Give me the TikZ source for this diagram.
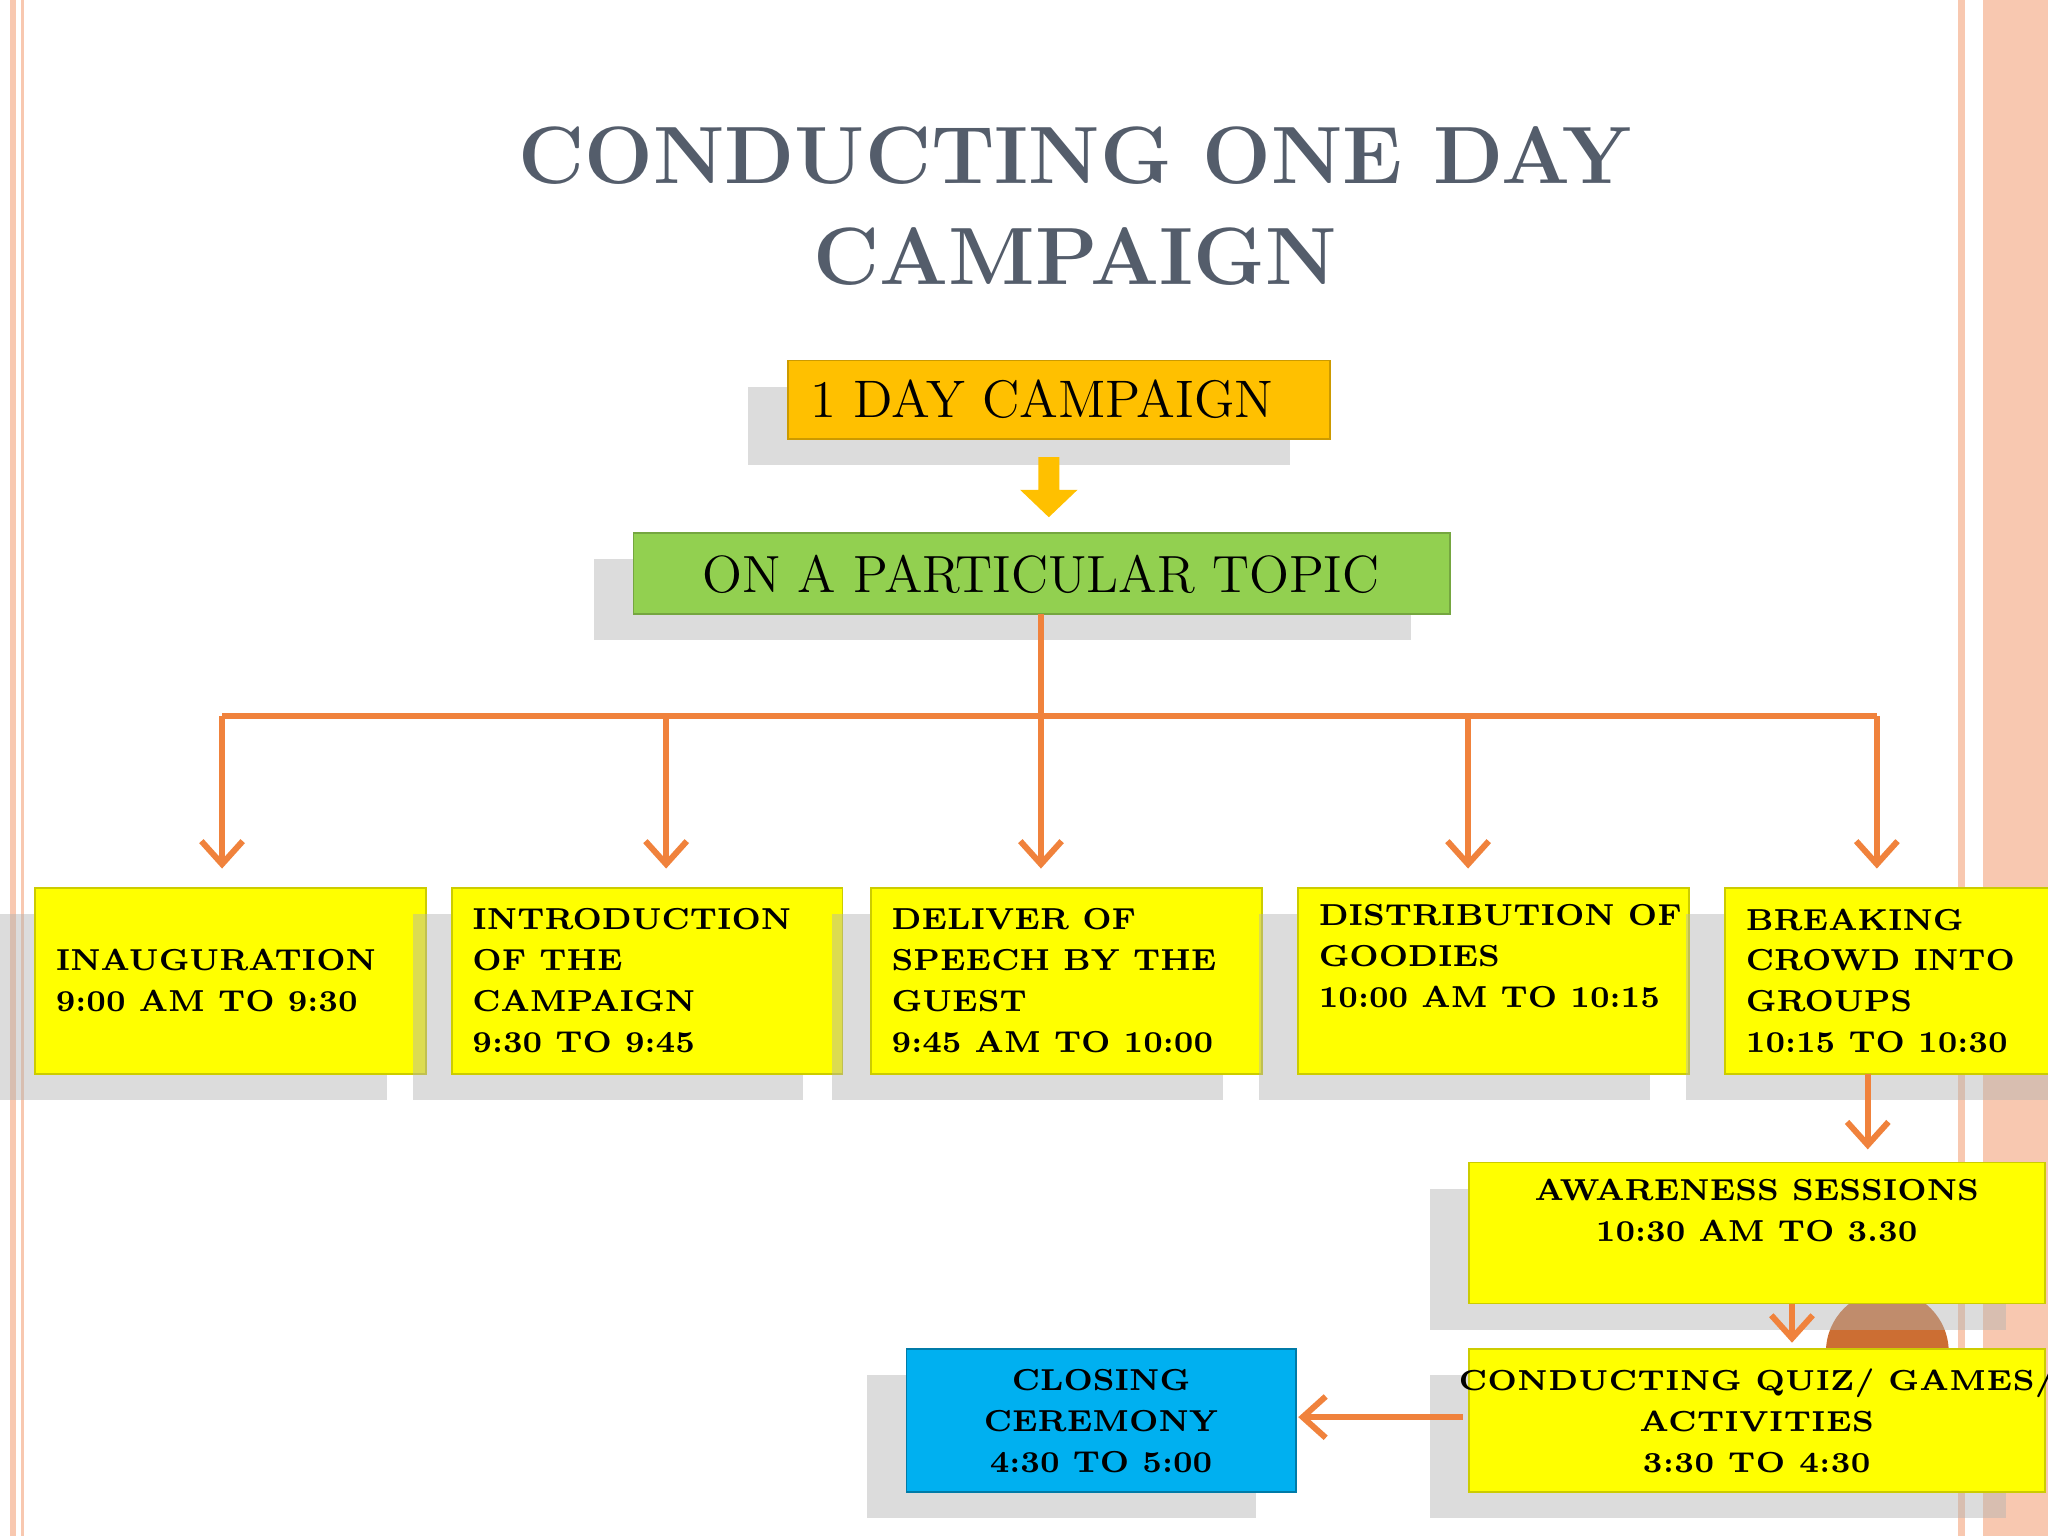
\documentclass[tikz,border=0pt]{standalone}
\usetikzlibrary{shadows,arrows.meta}
\definecolor{ttl}{HTML}{545D6B}
\definecolor{orng}{HTML}{F0823C}
\definecolor{gold}{HTML}{FFC000}
\definecolor{grn}{HTML}{92D050}
\definecolor{yel}{HTML}{FFFF00}
\definecolor{cyanb}{HTML}{00B0F0}
\definecolor{salm}{HTML}{F8C8B0}
\begin{document}
\begin{tikzpicture}[x=0.01cm,y=-0.01cm,
  sh/.style={drop shadow={shadow xshift=-0.3cm,shadow yshift=-0.2cm,fill=black!30,opacity=0.45}},
  bf/.style={font=\bfseries\fontsize{6.6}{8.9}\selectfont,inner sep=0pt},
  con/.style={draw=orng,line width=1.3pt},
  arr/.style={con,-{Straight Barb[length=5pt,width=9pt]}}]
\useasboundingbox (0,0) rectangle (1568,1176);
\fill[white] (0,0) rectangle (1568,1176);
% borders
\draw[salm,line width=1.2pt] (10,0)--(10,1176);
\draw[salm,line width=0.6pt] (17,0)--(17,1176);
\draw[salm,line width=1.6pt] (1502,0)--(1502,1176);
\fill[salm] (1518,0) rectangle (1568,1176);
\fill[orng!85!black] (1445,1035) circle (47);
% title
\node[text=ttl,font=\bfseries\fontsize{17.7}{22}\selectfont,align=center] (title) at (823,158) {CONDUCTING ONE DAY\\CAMPAIGN};
% top boxes
\path[sh,draw=gold!80!black,fill=gold] (603,276) rectangle (1018,336);
\node[anchor=west,inner sep=0pt,font=\fontsize{11.5}{14}\selectfont] (t1) at (620,306) {1 DAY CAMPAIGN};
\fill[gold] (795,350) rectangle (811,375) -- (825,375) -- (803,396) -- (781,375) -- (795,375) -- cycle;
\path[sh,draw=grn!80!black,fill=grn] (485,408) rectangle (1110,470);
\node[font=\fontsize{11.4}{14}\selectfont] (topic) at (797,440) {ON A PARTICULAR TOPIC};
\coordinate (tb) at (797,470);
\coordinate (j) at (797,548);
\coordinate (l) at (170,548);
\coordinate (r) at (1437,548);
\draw[con] (tb)--(j);
\draw[con] (l)--(r);
\foreach \x in {170,510,797,1124,1437}{\draw[arr] (\x,548)--(\x,665);}
% row boxes
\foreach \x/\n in {27/a,346/b,667/c,994/d,1321/e}{
  \path[sh,draw=yel!80!black,fill=yel] (\x,680) rectangle ++(299,142);
  \coordinate (\n) at (\x+15,751);}
\node[anchor=west,align=left,bf] at (a) {INAUGURATION\\9:00 AM TO 9:30};
\node[anchor=west,align=left,bf] at (b) {INTRODUCTION\\OF THE\\CAMPAIGN\\9:30 TO 9:45};
\node[anchor=west,align=left,bf] at (c) {DELIVER OF\\SPEECH BY THE\\GUEST\\9:45 AM TO 10:00};
\node[anchor=north west,align=left,bf] at (1009,692) {DISTRIBUTION OF\\GOODIES\\10:00 AM TO 10:15};
\node[anchor=west,align=left,bf] at (e) {BREAKING\\CROWD INTO\\GROUPS\\10:15 TO 10:30};
\draw[arr] (1430,822)--(1430,880);
\path[sh,draw=yel!80!black,fill=yel] (1125,890) rectangle (1566,998);
\node[anchor=north,align=center,bf] (aw) at (1345,902) {AWARENESS SESSIONS\\10:30 AM TO 3.30};
\draw[arr] (1372,998)--(1372,1028);
\path[sh,draw=yel!80!black,fill=yel] (1125,1033) rectangle (1566,1142);
\node[align=center,bf,font=\bfseries\fontsize{6.3}{8.9}\selectfont] (quiz) at (1345,1088) {CONDUCTING QUIZ/ GAMES/\\ACTIVITIES\\3:30 TO 4:30};
\path[sh,draw=cyanb!70!black,fill=cyanb] (694,1033) rectangle (992,1142);
\node[align=center,bf] (close) at (843,1088) {CLOSING\\CEREMONY\\4:30 TO 5:00};
\draw[arr] (1120,1085)--(994,1085);
\end{tikzpicture}
\end{document}
